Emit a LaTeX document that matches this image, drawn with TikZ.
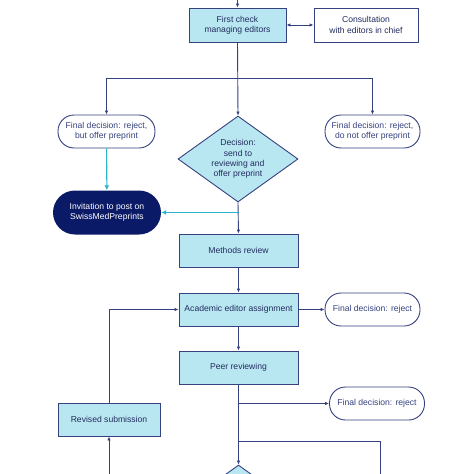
\documentclass[tikz,border=0pt]{standalone}
\usepackage{fontspec}
\setmainfont{Liberation Sans}
\usetikzlibrary{positioning, arrows.meta, shapes.geometric}

\definecolor{navyline}{HTML}{36427F}
\definecolor{navytext}{HTML}{222C5E}
\definecolor{lightfill}{HTML}{B9E7F1}
\definecolor{darkfill}{HTML}{0B1A66}
\definecolor{cyanline}{HTML}{2CB4CC}

\begin{document}
\begin{tikzpicture}[
        x=1pt, y=-1pt,
        font=\fontsize{8.6}{10.2}\selectfont,
        box/.style={rectangle, draw=navyline, fill=lightfill, line width=0.9pt, text=navytext, align=center, minimum width=119pt, minimum height=33pt, inner sep=2pt},
        plainbox/.style={box, fill=white},
        endbox/.style={rectangle, rounded corners=16pt, draw=navyline, fill=white, line width=0.9pt, text=navyline, align=center, minimum width=95pt, minimum height=33pt, inner sep=2pt},
        invitebox/.style={rectangle, rounded corners=22pt, fill=darkfill, text=white, align=center, minimum width=108pt, minimum height=44pt},
        decision/.style={diamond, aspect=1.4, draw=navyline, fill=lightfill, line width=0.9pt, text=navytext, align=center, minimum width=120pt, minimum height=86pt, inner sep=0pt},
        link/.style={draw=navyline, line width=0.9pt},
        arr/.style={link, -{Latex[length=4pt, width=3.5pt]}},
        carr/.style={draw=cyanline, line width=1.1pt, -{Latex[length=5pt, width=5pt]}}
    ]
        \useasboundingbox (0,0) rectangle (474,474);
        \clip (0,0) rectangle (474,474);

        % boxes
        \node[box, minimum width=97pt, minimum height=34pt] (first) at (237.5,25) {First check\\managing editors};
        \node[plainbox, minimum width=104pt, minimum height=34pt] (consult) at (366,25) {Consultation\\with editors in chief};
        \node[endbox, minimum width=97pt] (rejoffer) at (106.5,131.5) {Final decision: reject,\\but offer preprint};
        \node[endbox] (rejnooffer) at (372.5,131.5) {Final decision: reject,\\do not offer preprint};
        \node[decision] (send) at (238,159) {Decision:\\send to\\reviewing and\\offer preprint};
        \node[invitebox] (invite) at (107,212.5) {Invitation to post on\\SwissMedPreprints};
        \node[box] (methods) at (238.5,250.5) {Methods review};
        \node[box] (academic) at (238.5,309.5) {Academic editor assignment};
        \node[endbox] (rejacad) at (372.5,309.5) {Final decision: reject};
        \node[box] (peer) at (238.5,367.5) {Peer reviewing};
        \node[endbox] (rejpeer) at (377,403.5) {Final decision: reject};
        \node[box, minimum width=102pt] (revised) at (109,419.5) {Revised submission};
        \node[decision] (verdict) at (238.5,508) {};

        % helper points
        \coordinate (entry) at (237.5,-2);
        \coordinate (split) at (237.5,78);
        \coordinate (offer) at (238.5,212.5);
        \coordinate (fork) at (238.5,441);
        \coordinate (exit) at (380,480);
        \coordinate (back) at (109,480);

        % connectors
        \draw[arr] (entry) -- (first);
        \draw[arr, {Latex[length=4pt, width=3.5pt]}-{Latex[length=4pt, width=3.5pt]}] (first) -- (consult);
        \draw[arr] (first.south) -- (send.north);
        \draw[arr] (split) -| (rejoffer.north);
        \draw[arr] (split) -| (rejnooffer.north);
        \draw[carr] (rejoffer) -- (invite);
        \draw[arr] (send.south) -- (methods.north);
        \draw[carr] (offer) -- (invite.east);
        \draw[arr] (methods) -- (academic);
        \draw[arr] (academic) -- (rejacad);
        \draw[arr] (academic) -- (peer);
        \draw[arr] (peer.south) -- (verdict.north);
        \draw[arr] (peer.south |- rejpeer) -- (rejpeer.west);
        \draw[link] (fork) -| (exit);
        \draw[arr] (back) -- (revised.south);
        \draw[arr] (revised.north) |- (academic.west);
    \end{tikzpicture}
\end{document}
